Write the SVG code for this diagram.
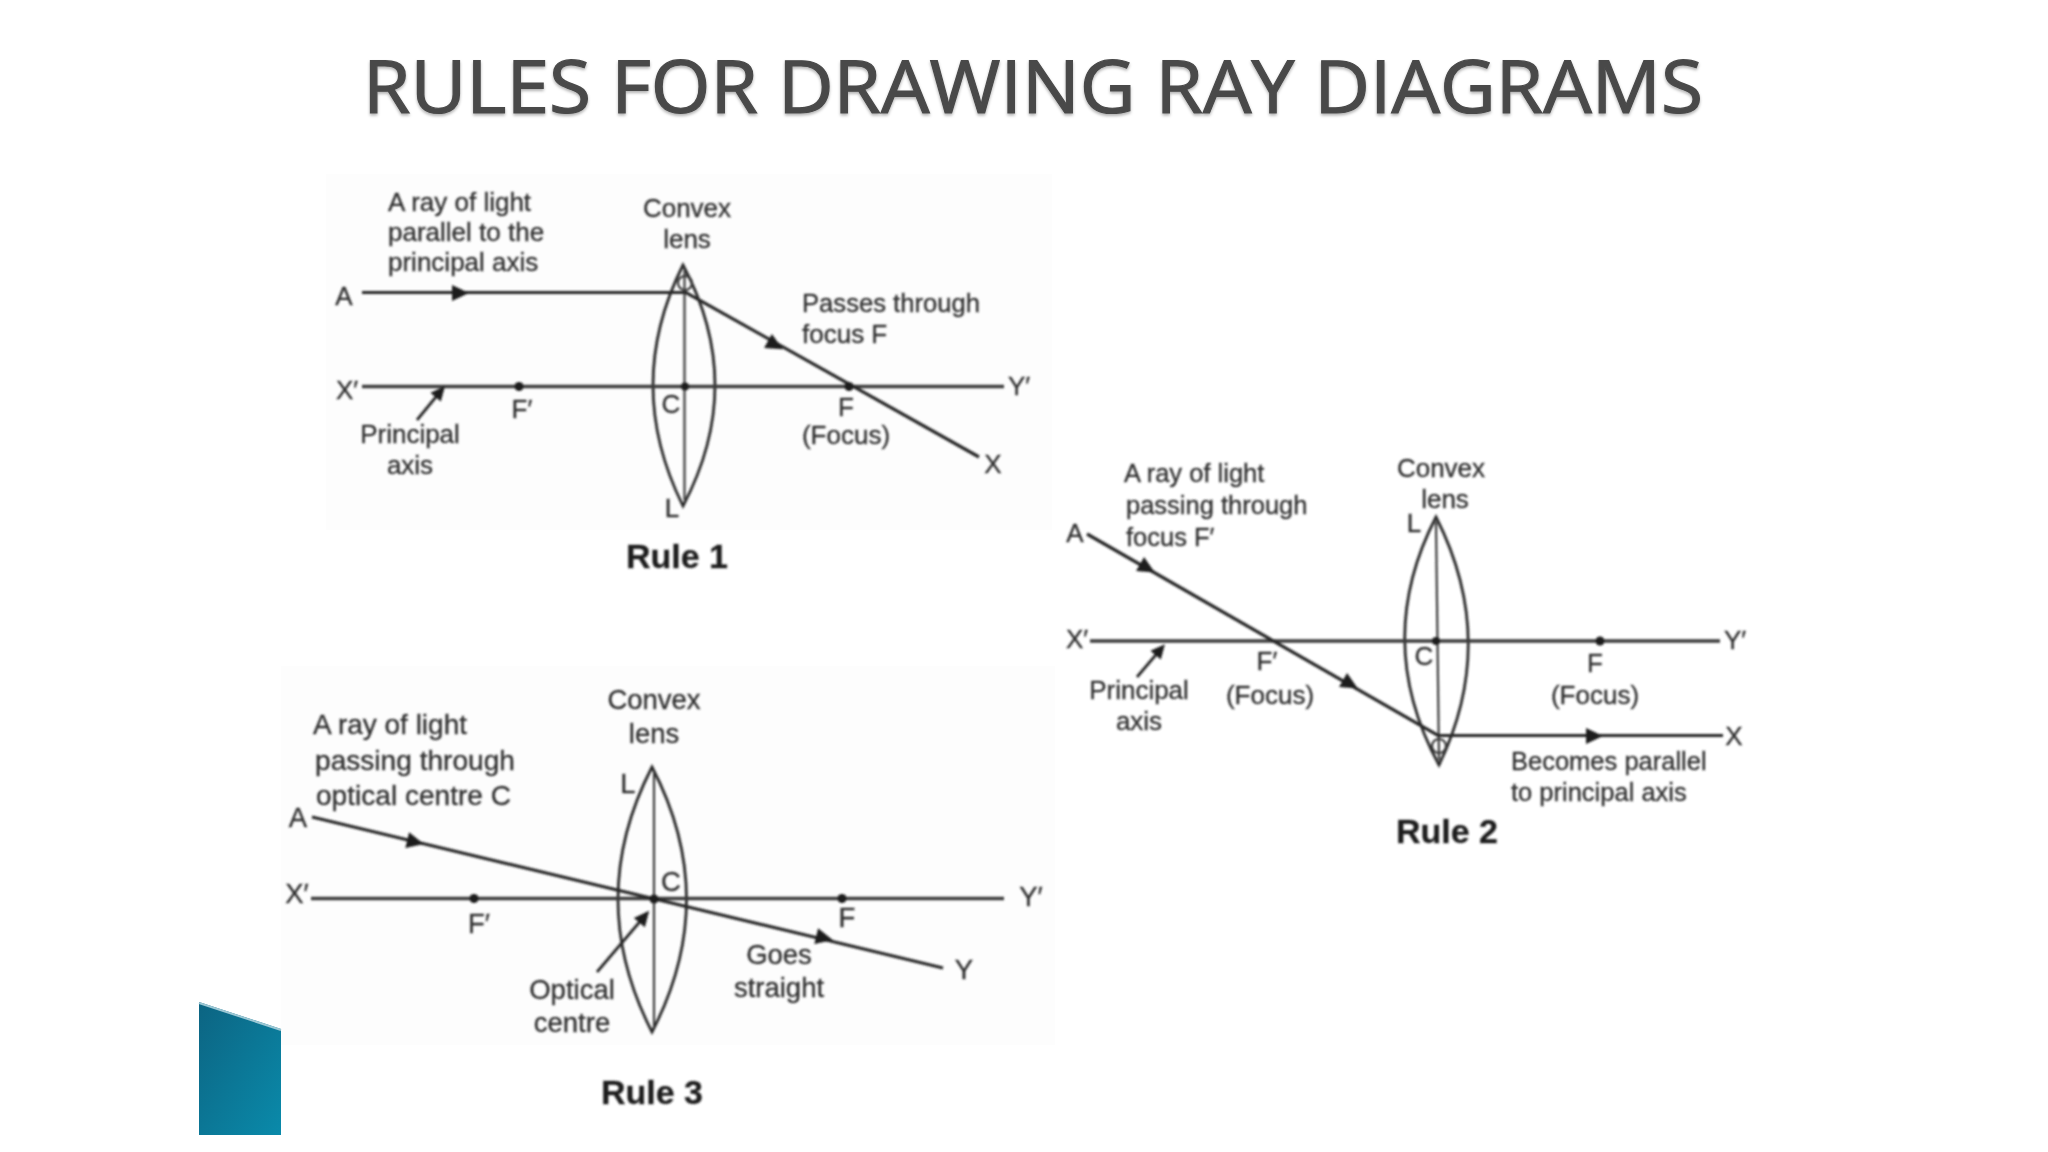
<svg xmlns="http://www.w3.org/2000/svg" xmlns:xlink="http://www.w3.org/1999/xlink" width="2048" height="1152" viewBox="0 0 2048 1152">
<style>
text{font-family:"Liberation Sans",Arial,sans-serif;fill:#2e2e2e;stroke:#2e2e2e;stroke-width:.3}
.t{font-size:26px}
.t2{font-size:25.5px}
.t3{font-size:27.5px}
.m{text-anchor:middle}
.r{font-size:34px;font-weight:bold;fill:#1c1c1c;text-anchor:middle}
.title{font-family:"Open Sans","DejaVu Sans",sans-serif;font-size:73px;fill:#4a4a4a;stroke:#4a4a4a;stroke-width:1.2}
.ln{fill:none;stroke:#2b2b2b;stroke-width:2.8}
.ax{fill:none;stroke:#3a3a3a;stroke-width:3.4}
.ray{fill:none;stroke:#262626;stroke-width:3.2}
.thin{fill:none;stroke:#3a3a3a;stroke-width:2.2}
.d{fill:#1c1c1c}
</style>
<defs>
<filter id="soft" x="-5%" y="-5%" width="110%" height="110%"><feGaussianBlur stdDeviation="0.8"/></filter>
<filter id="tsh" x="-2%" y="-20%" width="104%" height="150%"><feDropShadow dx="0" dy="2" stdDeviation="1.5" flood-color="#000" flood-opacity="0.3"/></filter>
<linearGradient id="teal" x1="0" y1="0" x2="1" y2="1"><stop offset="0" stop-color="#0c6482"/><stop offset="1" stop-color="#0a8aaa"/></linearGradient>
<polygon id="h" points="9,0 -8,-8 -8,8" fill="#1c1c1c"/>
</defs>
<rect width="2048" height="1152" fill="#ffffff"/>
<rect x="326" y="174" width="726" height="356" fill="#fdfdfd"/>
<rect x="281" y="666" width="774" height="379" fill="#fdfdfd"/>
<text id="title" class="title" x="363" y="113" textLength="1340" lengthAdjust="spacingAndGlyphs" filter="url(#tsh)">RULES FOR DRAWING RAY DIAGRAMS</text>
<g id="corner">
<polygon points="199,1002 281,1029 281,1135 199,1135" fill="url(#teal)"/>
<line x1="199" y1="1003" x2="281" y2="1030" stroke="#9cc7d4" stroke-width="2"/>
</g>

<g id="rule1" filter="url(#soft)">
<g id="rule1-lens">
<path class="ln" d="M683 265Q623 385 683 506Q747 385 683 265Z"/>
<line class="thin" x1="684.500" y1="270" x2="684.500" y2="500"/>
<circle class="thin" cx="685" cy="283" r="7"/>
</g>
<g id="rule1-connectors">
<line class="ax" x1="362" y1="386.500" x2="1004" y2="386.500"/>
<path class="ray" d="M362 292.500H686L979 457"/>
<line class="ln" x1="417" y1="420" x2="440" y2="392"/>
<use xlink:href="#h" transform="translate(460 293)"/>
<use xlink:href="#h" transform="translate(775 345) rotate(29)"/>
<use xlink:href="#h" transform="translate(440 392) rotate(-50) scale(.85)"/>
<circle class="d" cx="519" cy="386.500" r="4.500"/>
<circle class="d" cx="685" cy="386.500" r="4"/>
<circle class="d" cx="849" cy="386.500" r="4.500"/>
</g>
<g id="rule1-labels">
<text class="t" x="388" y="211">A ray of light</text>
<text class="t" x="388" y="241">parallel to the</text>
<text class="t" x="388" y="271">principal axis</text>
<text class="t m" x="687" y="217">Convex</text>
<text class="t m" x="687" y="248">lens</text>
<text class="t m" x="344" y="305">A</text>
<text class="t m" x="347" y="399">X′</text>
<text class="t m" x="1019" y="395">Y′</text>
<text class="t m" x="522" y="418">F′</text>
<text class="t m" x="671" y="413">C</text>
<text class="t m" x="846" y="416">F</text>
<text class="t m" x="846" y="444">(Focus)</text>
<text class="t" x="802" y="312" textLength="178" lengthAdjust="spacingAndGlyphs">Passes through</text>
<text class="t" x="802" y="343">focus F</text>
<text class="t m" x="993" y="473">X</text>
<text class="t m" x="672" y="517">L</text>
<text class="t m" x="410" y="443">Principal</text>
<text class="t m" x="410" y="474">axis</text>
<text class="r" x="677" y="568">Rule 1</text>
</g>
</g>

<g id="rule2" filter="url(#soft)">
<g id="rule2-lens">
<path class="ln" d="M1436 517Q1372 641 1439 765Q1499 641 1436 517Z"/>
<line class="thin" x1="1436" y1="522" x2="1439" y2="760"/>
<circle class="thin" cx="1439" cy="746" r="7"/>
</g>
<g id="rule2-connectors">
<line class="ax" x1="1090" y1="641" x2="1720" y2="641"/>
<path class="ray" d="M1087 534L1438 735.500H1723"/>
<line class="ln" x1="1137" y1="677" x2="1160" y2="650"/>
<use xlink:href="#h" transform="translate(1147 568) rotate(30)"/>
<use xlink:href="#h" transform="translate(1350 684) rotate(30)"/>
<use xlink:href="#h" transform="translate(1594 736)"/>
<use xlink:href="#h" transform="translate(1160 650) rotate(-50) scale(.85)"/>
<circle class="d" cx="1436" cy="641" r="4"/>
<circle class="d" cx="1600" cy="641" r="4.500"/>
</g>
<g id="rule2-labels">
<text class="t2" x="1124" y="482">A ray of light</text>
<text class="t2" x="1126" y="514">passing through</text>
<text class="t2" x="1126" y="546">focus F′</text>
<text class="t m" x="1441" y="477">Convex</text>
<text class="t m" x="1445" y="508">lens</text>
<text class="t m" x="1414" y="532">L</text>
<text class="t m" x="1075" y="542">A</text>
<text class="t m" x="1077" y="648">X′</text>
<text class="t m" x="1735" y="649">Y′</text>
<text class="t m" x="1267" y="670">F′</text>
<text class="t m" x="1424" y="665">C</text>
<text class="t m" x="1595" y="672">F</text>
<text class="t m" x="1270" y="704">(Focus)</text>
<text class="t m" x="1595" y="704">(Focus)</text>
<text class="t m" x="1139" y="699">Principal</text>
<text class="t m" x="1139" y="730">axis</text>
<text class="t m" x="1734" y="745">X</text>
<text class="t2" x="1511" y="770">Becomes parallel</text>
<text class="t2" x="1511" y="801">to principal axis</text>
<text class="r" x="1447" y="843">Rule 2</text>
</g>
</g>

<g id="rule3" filter="url(#soft)">
<g id="rule3-lens">
<path class="ln" d="M652 767Q584 899 652 1032Q721 899 652 767Z"/>
<line class="thin" x1="654" y1="772" x2="654" y2="1028"/>
</g>
<g id="rule3-connectors">
<line class="ax" x1="311" y1="898.500" x2="1004" y2="898.500"/>
<line class="ray" x1="312" y1="817" x2="943" y2="968"/>
<line class="ln" x1="597" y1="972" x2="643" y2="918"/>
<use xlink:href="#h" transform="translate(415 842) rotate(13.500)"/>
<use xlink:href="#h" transform="translate(824 938) rotate(13.500)"/>
<use xlink:href="#h" transform="translate(644 917) rotate(-50) scale(.9)"/>
<circle class="d" cx="474" cy="898.500" r="4.500"/>
<circle class="d" cx="654" cy="899" r="4.500"/>
<circle class="d" cx="842" cy="898.500" r="4.500"/>
</g>
<g id="rule3-labels">
<text class="t3" x="313" y="734" textLength="154" lengthAdjust="spacingAndGlyphs">A ray of light</text>
<text class="t3" x="315" y="770" textLength="200" lengthAdjust="spacingAndGlyphs">passing through</text>
<text class="t3" x="316" y="805" textLength="195" lengthAdjust="spacingAndGlyphs">optical centre C</text>
<text class="t3 m" x="654" y="709">Convex</text>
<text class="t3 m" x="654" y="743">lens</text>
<text class="t3 m" x="628" y="793">L</text>
<text class="t3 m" x="298" y="827">A</text>
<text class="t3 m" x="297" y="903">X′</text>
<text class="t3 m" x="1031" y="906">Y′</text>
<text class="t3 m" x="479" y="933">F′</text>
<text class="t3 m" x="671" y="891">C</text>
<text class="t3 m" x="847" y="927">F</text>
<text class="t3 m" x="964" y="979">Y</text>
<text class="t3 m" x="572" y="999">Optical</text>
<text class="t3 m" x="572" y="1032">centre</text>
<text class="t3 m" x="779" y="964">Goes</text>
<text class="t3 m" x="779" y="997">straight</text>
<text class="r" x="652" y="1104">Rule 3</text>
</g>
</g>
</svg>
